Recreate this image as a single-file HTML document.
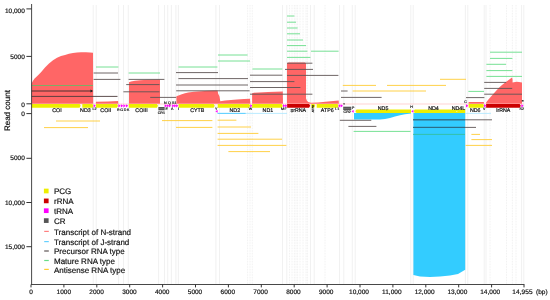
<!DOCTYPE html>
<html><head><meta charset="utf-8"><title>Read count</title>
<style>
html,body{margin:0;padding:0;background:#fff;}
svg{display:block;font-family:"Liberation Sans",sans-serif;}
text{stroke:#111;stroke-width:0.18px;text-rendering:geometricPrecision;}
</style></head><body>
<svg width="550" height="300" viewBox="0 0 550 300">
<rect width="550" height="300" fill="#fff"/>
<line x1="93.2" y1="5" x2="93.2" y2="284.5" stroke="#ebebeb" stroke-width="0.7"/>
<line x1="96.2" y1="5" x2="96.2" y2="284.5" stroke="#ebebeb" stroke-width="0.7"/>
<line x1="118.6" y1="5" x2="118.6" y2="284.5" stroke="#ebebeb" stroke-width="0.7"/>
<line x1="123.5" y1="5" x2="123.5" y2="284.5" stroke="#ebebeb" stroke-width="0.7"/>
<line x1="128.3" y1="5" x2="128.3" y2="284.5" stroke="#ebebeb" stroke-width="0.7"/>
<line x1="158.6" y1="5" x2="158.6" y2="284.5" stroke="#ebebeb" stroke-width="0.7"/>
<line x1="164.5" y1="5" x2="164.5" y2="284.5" stroke="#ebebeb" stroke-width="0.7"/>
<line x1="167.7" y1="5" x2="167.7" y2="284.5" stroke="#ebebeb" stroke-width="0.7"/>
<line x1="171.4" y1="5" x2="171.4" y2="284.5" stroke="#ebebeb" stroke-width="0.7"/>
<line x1="175.9" y1="5" x2="175.9" y2="284.5" stroke="#ebebeb" stroke-width="0.7"/>
<line x1="178.4" y1="5" x2="178.4" y2="284.5" stroke="#ebebeb" stroke-width="0.7"/>
<line x1="215.9" y1="5" x2="215.9" y2="284.5" stroke="#ebebeb" stroke-width="0.7"/>
<line x1="219.5" y1="5" x2="219.5" y2="284.5" stroke="#ebebeb" stroke-width="0.7"/>
<line x1="282.5" y1="5" x2="282.5" y2="284.5" stroke="#ebebeb" stroke-width="0.7"/>
<line x1="286.8" y1="5" x2="286.8" y2="284.5" stroke="#ebebeb" stroke-width="0.7"/>
<line x1="310.5" y1="5" x2="310.5" y2="284.5" stroke="#ebebeb" stroke-width="0.7"/>
<line x1="314.2" y1="5" x2="314.2" y2="284.5" stroke="#ebebeb" stroke-width="0.7"/>
<line x1="339.5" y1="5" x2="339.5" y2="284.5" stroke="#ebebeb" stroke-width="0.7"/>
<line x1="343.8" y1="5" x2="343.8" y2="284.5" stroke="#ebebeb" stroke-width="0.7"/>
<line x1="352.3" y1="5" x2="352.3" y2="284.5" stroke="#ebebeb" stroke-width="0.7"/>
<line x1="355.2" y1="5" x2="355.2" y2="284.5" stroke="#ebebeb" stroke-width="0.7"/>
<line x1="410.8" y1="5" x2="410.8" y2="284.5" stroke="#ebebeb" stroke-width="0.7"/>
<line x1="413.2" y1="5" x2="413.2" y2="284.5" stroke="#ebebeb" stroke-width="0.7"/>
<line x1="465.4" y1="5" x2="465.4" y2="284.5" stroke="#ebebeb" stroke-width="0.7"/>
<line x1="467.8" y1="5" x2="467.8" y2="284.5" stroke="#ebebeb" stroke-width="0.7"/>
<line x1="484.2" y1="5" x2="484.2" y2="284.5" stroke="#ebebeb" stroke-width="0.7"/>
<line x1="486" y1="5" x2="486" y2="284.5" stroke="#ebebeb" stroke-width="0.7"/>
<line x1="521.6" y1="5" x2="521.6" y2="284.5" stroke="#ebebeb" stroke-width="0.7"/>
<line x1="523.8" y1="5" x2="523.8" y2="284.5" stroke="#ebebeb" stroke-width="0.7"/>
<line x1="247.6" y1="5" x2="247.6" y2="284.5" stroke="#e4e4e4" stroke-width="0.6" stroke-dasharray="0.8,0.8"/>
<line x1="250" y1="5" x2="250" y2="284.5" stroke="#e4e4e4" stroke-width="0.6" stroke-dasharray="0.8,0.8"/>
<line x1="252.3" y1="5" x2="252.3" y2="284.5" stroke="#e4e4e4" stroke-width="0.6" stroke-dasharray="0.8,0.8"/>
<line x1="289.5" y1="5" x2="289.5" y2="284.5" stroke="#e4e4e4" stroke-width="0.6" stroke-dasharray="0.8,0.8"/>
<line x1="292" y1="5" x2="292" y2="284.5" stroke="#e4e4e4" stroke-width="0.6" stroke-dasharray="0.8,0.8"/>
<line x1="294.4" y1="5" x2="294.4" y2="284.5" stroke="#e4e4e4" stroke-width="0.6" stroke-dasharray="0.8,0.8"/>
<line x1="296" y1="5" x2="296" y2="284.5" stroke="#e4e4e4" stroke-width="0.6" stroke-dasharray="0.8,0.8"/>
<line x1="297.6" y1="5" x2="297.6" y2="284.5" stroke="#e4e4e4" stroke-width="0.6" stroke-dasharray="0.8,0.8"/>
<line x1="300" y1="5" x2="300" y2="284.5" stroke="#e4e4e4" stroke-width="0.6" stroke-dasharray="0.8,0.8"/>
<line x1="303" y1="5" x2="303" y2="284.5" stroke="#e4e4e4" stroke-width="0.6" stroke-dasharray="0.8,0.8"/>
<line x1="306" y1="5" x2="306" y2="284.5" stroke="#e4e4e4" stroke-width="0.6" stroke-dasharray="0.8,0.8"/>
<line x1="307.4" y1="5" x2="307.4" y2="284.5" stroke="#e4e4e4" stroke-width="0.6" stroke-dasharray="0.8,0.8"/>
<line x1="325" y1="5" x2="325" y2="284.5" stroke="#e4e4e4" stroke-width="0.6" stroke-dasharray="0.8,0.8"/>
<line x1="490" y1="5" x2="490" y2="284.5" stroke="#e4e4e4" stroke-width="0.6" stroke-dasharray="0.8,0.8"/>
<line x1="506.5" y1="5" x2="506.5" y2="284.5" stroke="#e4e4e4" stroke-width="0.6" stroke-dasharray="0.8,0.8"/>
<line x1="512.4" y1="5" x2="512.4" y2="284.5" stroke="#e4e4e4" stroke-width="0.6" stroke-dasharray="0.8,0.8"/>
<line x1="516" y1="5" x2="516" y2="284.5" stroke="#e4e4e4" stroke-width="0.6" stroke-dasharray="0.8,0.8"/>
<path d="M31.6,103.9 L31.6,83.4 L33.0,80.8 L34.6,78.6 L37.8,75.4 L41.0,72.2 L45.0,67.6 L49.0,63.4 L53.0,60.3 L57.0,57.8 L61.0,56.1 L65.0,54.9 L69.0,53.8 L73.0,53.0 L77.0,52.5 L81.0,52.2 L86.0,52.2 L90.0,52.4 L93.0,52.8 L93.2,103.9Z" fill="#ff6666" />
<path d="M95.9,104.3 L95.9,101.8 L108.0,101.4 L118.1,101.0 L118.3,104.3Z" fill="#ff6666" />
<path d="M129.0,103.9 L129.0,82.2 L131.0,81.4 L135.0,80.8 L140.0,80.2 L148.0,79.8 L160.0,79.6 L160.0,103.9Z" fill="#ff6666" />
<path d="M176.4,103.9 L176.4,96.3 L178.5,95.4 L181.8,94.2 L185.0,93.2 L188.2,92.5 L194.0,91.7 L201.0,91.2 L208.0,90.8 L213.6,90.5 L217.6,90.5 L218.2,93.8 L219.5,96.4 L220.3,101.2 L225.0,100.6 L231.0,100.0 L237.0,99.5 L244.0,99.1 L250.0,98.8 L250.4,103.9Z" fill="#ff6666" />
<path d="M252.1,103.9 L252.1,93.2 L254.0,92.7 L268.0,92.1 L282.8,91.5 L283.0,103.9Z" fill="#ff6666" />
<path d="M287.0,103.9 L287.0,63.5 L288.5,62.4 L305.0,62.4 L306.0,63.5 L306.0,98.5 L306.8,100.6 L308.2,102.0 L311.0,102.8 L318.0,102.4 L328.0,101.5 L338.7,100.5 L338.9,103.9Z" fill="#ff6666" />
<path d="M468.6,104.3 L468.6,102.1 L483.9,101.9 L483.9,104.3Z" fill="#ff6666" />
<path d="M486.1,103.9 L486.1,102.6 L488.0,100.0 L493.0,94.2 L498.7,87.9 L502.0,85.0 L505.2,82.5 L509.0,79.8 L512.0,77.4 L512.5,79.0 L512.6,82.5 L516.5,81.8 L519.0,82.1 L522.0,82.4 L522.0,103.9Z" fill="#ff6666" />
<path d="M354.0,113.0 L354.0,119.4 L380.0,119.4 L385.0,119.0 L390.0,118.0 L395.0,116.6 L400.0,115.2 L405.0,114.2 L411.0,113.4 L411.0,113.0Z" fill="#33ccff" />
<path d="M413.4,113.0 L413.4,275.0 L420.0,276.4 L430.0,277.0 L440.0,276.6 L450.0,275.6 L458.0,274.0 L465.2,269.8 L465.2,113.0Z" fill="#33ccff" />
<line x1="31.6" y1="104.0" x2="524" y2="104.0" stroke="#ffc8c8" stroke-width="0.8"/>
<line x1="217.6" y1="113.4" x2="287" y2="113.4" stroke="#aae6ff" stroke-width="0.8"/>
<line x1="217.6" y1="113.4" x2="245.6" y2="113.4" stroke="#5ccfff" stroke-width="1.0"/>
<line x1="465" y1="113.4" x2="491" y2="113.4" stroke="#aae6ff" stroke-width="0.8"/>
<line x1="31.6" y1="85.5" x2="93" y2="85.5" stroke="#6fb765" stroke-width="0.9"/>
<line x1="31.6" y1="91" x2="92" y2="91" stroke="#3a2a2a" stroke-width="0.9"/>
<path d="M90.5,89.6 L93.2,91 L90.5,92.4Z" fill="#222"/>
<line x1="31.6" y1="96.4" x2="117.5" y2="96.4" stroke="#4a3a3a" stroke-width="0.9"/>
<line x1="96" y1="67" x2="118.4" y2="67" stroke="#66dd88" stroke-width="0.9"/>
<line x1="93.6" y1="73" x2="118" y2="73" stroke="#5e5555" stroke-width="0.9"/>
<line x1="93.6" y1="79.4" x2="120.4" y2="79.4" stroke="#5e5555" stroke-width="0.9"/>
<line x1="128.6" y1="73" x2="160" y2="73" stroke="#66dd88" stroke-width="0.9"/>
<line x1="128.6" y1="79.4" x2="164.4" y2="79.4" stroke="#5e5555" stroke-width="0.9"/>
<line x1="126.2" y1="84.6" x2="159.5" y2="84.6" stroke="#5e5555" stroke-width="0.9"/>
<line x1="123.4" y1="91.8" x2="159.5" y2="91.8" stroke="#5e5555" stroke-width="0.9"/>
<line x1="150.2" y1="97.4" x2="176.2" y2="97.4" stroke="#5e5555" stroke-width="0.9"/>
<line x1="178.4" y1="67" x2="217.4" y2="67" stroke="#66dd88" stroke-width="0.9"/>
<line x1="176" y1="72.6" x2="218" y2="72.6" stroke="#5e5555" stroke-width="0.9"/>
<line x1="178.4" y1="78.6" x2="248" y2="78.6" stroke="#5e5555" stroke-width="0.9"/>
<line x1="176" y1="85" x2="248" y2="85" stroke="#5e5555" stroke-width="0.9"/>
<line x1="176.2" y1="90.8" x2="249.6" y2="90.8" stroke="#5e5555" stroke-width="0.9"/>
<line x1="218" y1="55" x2="247.6" y2="55" stroke="#66dd88" stroke-width="0.9"/>
<line x1="218" y1="61" x2="250" y2="61" stroke="#66dd88" stroke-width="0.9"/>
<line x1="252.4" y1="69" x2="282.4" y2="69" stroke="#66dd88" stroke-width="0.9"/>
<line x1="250" y1="75.2" x2="282.4" y2="75.2" stroke="#5e5555" stroke-width="0.9"/>
<line x1="250" y1="81.6" x2="294.4" y2="81.6" stroke="#5e5555" stroke-width="0.9"/>
<line x1="250" y1="87.5" x2="300.4" y2="87.5" stroke="#5e5555" stroke-width="0.9"/>
<line x1="250" y1="94.2" x2="312.4" y2="94.2" stroke="#5e5555" stroke-width="0.9"/>
<line x1="287" y1="16" x2="294.4" y2="16" stroke="#66dd88" stroke-width="0.9"/>
<line x1="287" y1="22.2" x2="296" y2="22.2" stroke="#66dd88" stroke-width="0.9"/>
<line x1="287" y1="28" x2="297.6" y2="28" stroke="#66dd88" stroke-width="0.9"/>
<line x1="287" y1="33.8" x2="300" y2="33.8" stroke="#66dd88" stroke-width="0.9"/>
<line x1="287" y1="40" x2="303" y2="40" stroke="#66dd88" stroke-width="0.9"/>
<line x1="287" y1="45.6" x2="306" y2="45.6" stroke="#66dd88" stroke-width="0.9"/>
<line x1="287" y1="51.2" x2="307.4" y2="51.2" stroke="#66dd88" stroke-width="0.9"/>
<line x1="287" y1="57.4" x2="310.4" y2="57.4" stroke="#66dd88" stroke-width="0.9"/>
<line x1="311" y1="51.2" x2="338.6" y2="51.2" stroke="#66dd88" stroke-width="0.9"/>
<line x1="287" y1="63.2" x2="312.4" y2="63.2" stroke="#5e5555" stroke-width="0.9"/>
<line x1="285" y1="69.4" x2="313" y2="69.4" stroke="#5e5555" stroke-width="0.9"/>
<line x1="287" y1="75.4" x2="338.4" y2="75.4" stroke="#5e5555" stroke-width="0.9"/>
<line x1="342.8" y1="85.4" x2="376" y2="85.4" stroke="#ffcc33" stroke-width="0.9"/>
<line x1="387" y1="85.4" x2="446" y2="85.4" stroke="#ffcc33" stroke-width="0.9"/>
<line x1="440" y1="79.3" x2="466" y2="79.3" stroke="#ffcc33" stroke-width="0.9"/>
<line x1="341" y1="91" x2="347.6" y2="91" stroke="#5e5555" stroke-width="0.9"/>
<line x1="352.6" y1="91" x2="426" y2="91" stroke="#ffcc33" stroke-width="0.9"/>
<line x1="341" y1="97.4" x2="381.6" y2="97.4" stroke="#5e5555" stroke-width="0.9"/>
<line x1="468.4" y1="91.4" x2="484" y2="91.4" stroke="#66dd88" stroke-width="0.9"/>
<line x1="466" y1="97.6" x2="484.4" y2="97.6" stroke="#5e5555" stroke-width="0.9"/>
<line x1="490" y1="52.2" x2="522" y2="52.2" stroke="#66dd88" stroke-width="0.9"/>
<line x1="490" y1="58.4" x2="512.4" y2="58.4" stroke="#66dd88" stroke-width="0.9"/>
<line x1="486.4" y1="64.3" x2="506" y2="64.3" stroke="#66dd88" stroke-width="0.9"/>
<line x1="486.4" y1="70.6" x2="512.4" y2="70.6" stroke="#66dd88" stroke-width="0.9"/>
<line x1="486.4" y1="76.4" x2="522" y2="76.4" stroke="#66dd88" stroke-width="0.9"/>
<line x1="484.2" y1="82.4" x2="506.2" y2="82.4" stroke="#5e5555" stroke-width="0.9"/>
<line x1="484.2" y1="88.4" x2="512.2" y2="88.4" stroke="#5e5555" stroke-width="0.9"/>
<line x1="484.2" y1="94.2" x2="522" y2="94.2" stroke="#5e5555" stroke-width="0.9"/>
<line x1="521.8" y1="100.8" x2="523.6" y2="100.8" stroke="#333" stroke-width="1.5"/>
<line x1="56" y1="121" x2="100" y2="121" stroke="#ffcc33" stroke-width="0.9"/>
<line x1="44" y1="127.6" x2="88" y2="127.6" stroke="#ffcc33" stroke-width="0.9"/>
<line x1="162" y1="120.6" x2="212.4" y2="120.6" stroke="#ffcc33" stroke-width="0.9"/>
<line x1="176" y1="127.4" x2="212.4" y2="127.4" stroke="#ffcc33" stroke-width="0.9"/>
<line x1="217.6" y1="120.2" x2="236.4" y2="120.2" stroke="#ffcc33" stroke-width="0.9"/>
<line x1="217.6" y1="127" x2="251" y2="127" stroke="#ffcc33" stroke-width="0.9"/>
<line x1="217.6" y1="133.4" x2="258.4" y2="133.4" stroke="#ffcc33" stroke-width="0.9"/>
<line x1="217.6" y1="139.2" x2="282" y2="139.2" stroke="#ffcc33" stroke-width="0.9"/>
<line x1="217.6" y1="145.4" x2="286.4" y2="145.4" stroke="#ffcc33" stroke-width="0.9"/>
<line x1="228.4" y1="151.6" x2="270" y2="151.6" stroke="#ffcc33" stroke-width="0.9"/>
<line x1="339.8" y1="120.3" x2="371.3" y2="120.3" stroke="#5e5555" stroke-width="0.9"/>
<line x1="348.4" y1="126.4" x2="376.4" y2="126.4" stroke="#5e5555" stroke-width="0.9"/>
<line x1="353.6" y1="131.4" x2="410.6" y2="131.4" stroke="#66dd88" stroke-width="0.9"/>
<line x1="413" y1="119.8" x2="492" y2="119.8" stroke="#5e5555" stroke-width="0.9"/>
<line x1="413" y1="119.8" x2="465" y2="119.8" stroke="#1f6f8f" stroke-width="0.9"/>
<line x1="413" y1="127.4" x2="476" y2="127.4" stroke="#5e5555" stroke-width="0.9"/>
<line x1="413" y1="127.4" x2="465" y2="127.4" stroke="#1f6f8f" stroke-width="0.9"/>
<line x1="413" y1="134.4" x2="465" y2="134.4" stroke="#33c0a0" stroke-width="0.9"/>
<line x1="471.4" y1="134.4" x2="480" y2="134.4" stroke="#ffcc33" stroke-width="0.9"/>
<line x1="471.4" y1="139.6" x2="492" y2="139.6" stroke="#ffcc33" stroke-width="0.9"/>
<line x1="465.6" y1="145.4" x2="492" y2="145.4" stroke="#ffcc33" stroke-width="0.9"/>
<path d="M31.6,103.9 L79.6,103.9 L80.7,105.8 L79.6,107.7 L31.6,107.7Z" fill="#eeee00" />
<path d="M82.3,103.9 L92.4,103.9 L93.5,105.8 L92.4,107.7 L82.3,107.7Z" fill="#eeee00" />
<path d="M96.0,103.9 L116.9,103.9 L118.0,105.8 L116.9,107.7 L96.0,107.7Z" fill="#eeee00" />
<path d="M128.8,103.9 L156.9,103.9 L158.0,105.8 L156.9,107.7 L128.8,107.7Z" fill="#eeee00" />
<path d="M178.6,103.9 L213.7,103.9 L214.8,105.8 L213.7,107.7 L178.6,107.7Z" fill="#eeee00" />
<path d="M217.7,103.9 L249.1,103.9 L250.2,105.8 L249.1,107.7 L217.7,107.7Z" fill="#eeee00" />
<path d="M252.1,103.9 L281.7,103.9 L282.8,105.8 L281.7,107.7 L252.1,107.7Z" fill="#eeee00" />
<path d="M311.4,103.9 L314.2,103.9 L315.3,105.8 L314.2,107.7 L311.4,107.7Z" fill="#eeee00" />
<path d="M316.7,103.9 L337.5,103.9 L338.6,105.8 L337.5,107.7 L316.7,107.7Z" fill="#eeee00" />
<path d="M468.7,103.9 L482.9,103.9 L484.0,105.8 L482.9,107.7 L468.7,107.7Z" fill="#eeee00" />
<path d="M287.1,103.9 L309.1,103.9 L310.2,105.8 L309.1,107.7 L287.1,107.7Z" fill="#cc0000" />
<path d="M486.1,103.9 L519.7,103.9 L520.8,105.8 L519.7,107.7 L486.1,107.7Z" fill="#cc0000" />
<path d="M411.0,109.6 L356.5,109.6 L355.4,111.3 L356.5,113.0 L411.0,113.0Z" fill="#eeee00" />
<path d="M465.2,109.6 L414.7,109.6 L413.6,111.3 L414.7,113.0 L465.2,113.0Z" fill="#eeee00" />
<path d="M456.2,111.5 L457.2,110.8 L457.2,112.2Z" fill="#fff" />
<path d="M93.6,104.2 L95.9,105.8 L93.6,107.4Z" fill="#ff00ff" />
<path d="M118.4,104.2 L120.7,105.8 L118.4,107.4Z" fill="#ff00ff" />
<path d="M120.9,104.2 L123.2,105.8 L120.9,107.4Z" fill="#ff00ff" />
<path d="M123.4,104.2 L125.7,105.8 L123.4,107.4Z" fill="#ff00ff" />
<path d="M125.9,104.2 L128.2,105.8 L125.9,107.4Z" fill="#ff00ff" />
<path d="M164.7,104.2 L167.0,105.8 L164.7,107.4Z" fill="#ff00ff" />
<path d="M166.8,104.2 L169.1,105.8 L166.8,107.4Z" fill="#ff00ff" />
<path d="M168.9,104.2 L171.2,105.8 L168.9,107.4Z" fill="#ff00ff" />
<path d="M172.1,104.2 L174.4,105.8 L172.1,107.4Z" fill="#ff00ff" />
<path d="M174.1,104.2 L176.4,105.8 L174.1,107.4Z" fill="#ff00ff" />
<path d="M176.1,104.2 L178.4,105.8 L176.1,107.4Z" fill="#ff00ff" />
<path d="M250.2,104.2 L252.5,105.8 L250.2,107.4Z" fill="#ff00ff" />
<path d="M283.0,104.2 L285.3,105.8 L283.0,107.4Z" fill="#ff00ff" />
<path d="M285.1,104.2 L287.4,105.8 L285.1,107.4Z" fill="#ff00ff" />
<path d="M338.7,104.2 L341.0,105.8 L338.7,107.4Z" fill="#ff00ff" />
<path d="M340.7,104.2 L343.0,105.8 L340.7,107.4Z" fill="#ff00ff" />
<path d="M466.0,104.2 L468.3,105.8 L466.0,107.4Z" fill="#ff00ff" />
<path d="M484.1,104.2 L486.4,105.8 L484.1,107.4Z" fill="#ff00ff" />
<path d="M521.4,104.2 L523.7,105.8 L521.4,107.4Z" fill="#ff00ff" />
<path d="M217.6,109.9 L215.4,111.3 L217.6,112.7Z" fill="#ff00ff" />
<path d="M353.7,109.9 L351.5,111.3 L353.7,112.7Z" fill="#ff00ff" />
<path d="M413.4,109.9 L411.2,111.3 L413.4,112.7Z" fill="#ff00ff" />
<rect x="158.4" y="107.0" width="6.20" height="3.30" fill="#555555"/>
<rect x="343.2" y="106.7" width="8.10" height="3.40" fill="#555555"/>
<line x1="158.4" y1="108.6" x2="164.6" y2="108.6" stroke="#8a8a8a" stroke-width="0.5"/>
<line x1="343.4" y1="108.4" x2="351.2" y2="108.4" stroke="#8a8a8a" stroke-width="0.5"/>
<text x="57" y="112" font-size="5.3" text-anchor="middle" fill="#111" >COI</text>
<text x="85.4" y="112" font-size="5.3" text-anchor="middle" fill="#111" >ND3</text>
<text x="105.8" y="112" font-size="5.3" text-anchor="middle" fill="#111" >COII</text>
<text x="141.5" y="112" font-size="5.3" text-anchor="middle" fill="#111" >COIII</text>
<text x="197.3" y="112" font-size="5.3" text-anchor="middle" fill="#111" >CYTB</text>
<text x="234.8" y="112" font-size="5.3" text-anchor="middle" fill="#111" >ND2</text>
<text x="267.9" y="112" font-size="5.3" text-anchor="middle" fill="#111" >ND1</text>
<text x="298.3" y="112" font-size="5.3" text-anchor="middle" fill="#111" >srRNA</text>
<text x="327.2" y="112" font-size="5.3" text-anchor="middle" fill="#111" >ATP6</text>
<text x="475.2" y="112" font-size="5.3" text-anchor="middle" fill="#111" >ND6</text>
<text x="503.3" y="112" font-size="5.3" text-anchor="middle" fill="#111" >lrRNA</text>
<text x="383.1" y="109.8" font-size="5.3" text-anchor="middle" fill="#111" >ND5</text>
<text x="433.5" y="109.8" font-size="5.3" text-anchor="middle" fill="#111" >ND4</text>
<text x="458.5" y="109.8" font-size="5.3" text-anchor="middle" fill="#111" >ND4L</text>
<text x="94.5" y="110.3" font-size="3.6" text-anchor="middle" fill="#111" >L2</text>
<text x="118.4" y="110.7" font-size="3.6" text-anchor="middle" fill="#111" >R</text>
<text x="121.7" y="110.7" font-size="3.6" text-anchor="middle" fill="#111" >G</text>
<text x="125" y="110.7" font-size="3.6" text-anchor="middle" fill="#111" >D</text>
<text x="128.2" y="110.7" font-size="3.6" text-anchor="middle" fill="#111" >K</text>
<text x="161.3" y="114.1" font-size="3.6" text-anchor="middle" fill="#111" >CR1</text>
<text x="165.4" y="103.5" font-size="3.6" text-anchor="middle" fill="#111" >N</text>
<text x="169.4" y="103.5" font-size="3.6" text-anchor="middle" fill="#111" >Q</text>
<text x="174.3" y="103.5" font-size="3.6" text-anchor="middle" fill="#111" >S1</text>
<text x="166.8" y="110.4" font-size="3.6" text-anchor="middle" fill="#111" >E</text>
<text x="172.3" y="110.4" font-size="3.6" text-anchor="middle" fill="#111" >A</text>
<text x="178.6" y="110.4" font-size="3.6" text-anchor="middle" fill="#111" >I</text>
<text x="216.2" y="109.6" font-size="3.6" text-anchor="middle" fill="#111" >Y</text>
<text x="250.4" y="110.3" font-size="3.6" text-anchor="middle" fill="#111" >W</text>
<text x="282.6" y="110.3" font-size="3.6" text-anchor="middle" fill="#111" >M</text>
<text x="285.6" y="110.3" font-size="3.6" text-anchor="middle" fill="#111" >F</text>
<text x="347.2" y="113.0" font-size="3.6" text-anchor="middle" fill="#111" >CR2</text>
<text x="337.3" y="110.3" font-size="3.6" text-anchor="middle" fill="#111" >L1</text>
<text x="344" y="104.6" font-size="2.6" text-anchor="middle" fill="#111" >T</text>
<text x="353.1" y="109.0" font-size="3.6" text-anchor="middle" fill="#111" >P</text>
<text x="411.5" y="108.4" font-size="3.6" text-anchor="middle" fill="#111" >H</text>
<text x="465.6" y="103.2" font-size="3.6" text-anchor="middle" fill="#111" >C</text>
<text x="484.3" y="110.3" font-size="3.6" text-anchor="middle" fill="#111" >V</text>
<text x="521.8" y="110.3" font-size="3.6" text-anchor="middle" fill="#111" >S2</text>
<text transform="translate(314.2,108.6) rotate(-90)" font-size="3.0" text-anchor="middle" fill="#111">ATP8</text>
<line x1="31.6" y1="4" x2="31.6" y2="284.9" stroke="#333333" stroke-width="0.9"/>
<line x1="31.2" y1="284.5" x2="524.4" y2="284.5" stroke="#333333" stroke-width="0.9"/>
<line x1="26.4" y1="8.9" x2="31.6" y2="8.9" stroke="#333333" stroke-width="1.0"/>
<text x="24.8" y="12.5" font-size="6.5" text-anchor="end" fill="#111" >10,000</text>
<line x1="26.4" y1="56.4" x2="31.6" y2="56.4" stroke="#333333" stroke-width="1.0"/>
<text x="24.8" y="58.699999999999996" font-size="6.5" text-anchor="end" fill="#111" >5000</text>
<line x1="26.4" y1="103.8" x2="31.6" y2="103.8" stroke="#333333" stroke-width="1.0"/>
<text x="24.8" y="107.0" font-size="6.5" text-anchor="end" fill="#111" >0</text>
<line x1="26.4" y1="113.6" x2="31.6" y2="113.6" stroke="#333333" stroke-width="1.0"/>
<text x="24.8" y="115.99999999999999" font-size="6.5" text-anchor="end" fill="#111" >0</text>
<line x1="26.4" y1="158.3" x2="31.6" y2="158.3" stroke="#333333" stroke-width="1.0"/>
<text x="24.8" y="160.20000000000002" font-size="6.5" text-anchor="end" fill="#111" >5000</text>
<line x1="26.4" y1="202.5" x2="31.6" y2="202.5" stroke="#333333" stroke-width="1.0"/>
<text x="24.8" y="204.8" font-size="6.5" text-anchor="end" fill="#111" >10,000</text>
<line x1="26.4" y1="246.7" x2="31.6" y2="246.7" stroke="#333333" stroke-width="1.0"/>
<text x="24.8" y="249.0" font-size="6.5" text-anchor="end" fill="#111" >15,000</text>
<line x1="31.0" y1="284.5" x2="31.0" y2="287.4" stroke="#333333" stroke-width="1.0"/>
<text x="31.0" y="294.4" font-size="6.5" text-anchor="middle" fill="#111" >0</text>
<line x1="63.9" y1="284.5" x2="63.9" y2="287.4" stroke="#333333" stroke-width="1.0"/>
<text x="63.8" y="294.4" font-size="6.5" text-anchor="middle" fill="#111" >1000</text>
<line x1="96.8" y1="284.5" x2="96.8" y2="287.4" stroke="#333333" stroke-width="1.0"/>
<text x="96.6" y="294.4" font-size="6.5" text-anchor="middle" fill="#111" >2000</text>
<line x1="129.7" y1="284.5" x2="129.7" y2="287.4" stroke="#333333" stroke-width="1.0"/>
<text x="129.4" y="294.4" font-size="6.5" text-anchor="middle" fill="#111" >3000</text>
<line x1="162.6" y1="284.5" x2="162.6" y2="287.4" stroke="#333333" stroke-width="1.0"/>
<text x="162.2" y="294.4" font-size="6.5" text-anchor="middle" fill="#111" >4000</text>
<line x1="195.5" y1="284.5" x2="195.5" y2="287.4" stroke="#333333" stroke-width="1.0"/>
<text x="195.0" y="294.4" font-size="6.5" text-anchor="middle" fill="#111" >5000</text>
<line x1="228.4" y1="284.5" x2="228.4" y2="287.4" stroke="#333333" stroke-width="1.0"/>
<text x="227.8" y="294.4" font-size="6.5" text-anchor="middle" fill="#111" >6000</text>
<line x1="261.3" y1="284.5" x2="261.3" y2="287.4" stroke="#333333" stroke-width="1.0"/>
<text x="260.6" y="294.4" font-size="6.5" text-anchor="middle" fill="#111" >7000</text>
<line x1="294.2" y1="284.5" x2="294.2" y2="287.4" stroke="#333333" stroke-width="1.0"/>
<text x="293.4" y="294.4" font-size="6.5" text-anchor="middle" fill="#111" >8000</text>
<line x1="327.1" y1="284.5" x2="327.1" y2="287.4" stroke="#333333" stroke-width="1.0"/>
<text x="326.2" y="294.4" font-size="6.5" text-anchor="middle" fill="#111" >9000</text>
<line x1="360.0" y1="284.5" x2="360.0" y2="287.4" stroke="#333333" stroke-width="1.0"/>
<text x="359.0" y="294.4" font-size="6.5" text-anchor="middle" fill="#111" >10,000</text>
<line x1="392.9" y1="284.5" x2="392.9" y2="287.4" stroke="#333333" stroke-width="1.0"/>
<text x="391.8" y="294.4" font-size="6.5" text-anchor="middle" fill="#111" >11,000</text>
<line x1="425.8" y1="284.5" x2="425.8" y2="287.4" stroke="#333333" stroke-width="1.0"/>
<text x="424.6" y="294.4" font-size="6.5" text-anchor="middle" fill="#111" >12,000</text>
<line x1="458.7" y1="284.5" x2="458.7" y2="287.4" stroke="#333333" stroke-width="1.0"/>
<text x="457.4" y="294.4" font-size="6.5" text-anchor="middle" fill="#111" >13,000</text>
<line x1="491.6" y1="284.5" x2="491.6" y2="287.4" stroke="#333333" stroke-width="1.0"/>
<text x="490.2" y="294.4" font-size="6.5" text-anchor="middle" fill="#111" >14,000</text>
<line x1="524.0" y1="284.5" x2="524.0" y2="287.4" stroke="#333333" stroke-width="1.0"/>
<text x="512.2" y="294.4" font-size="6.5" text-anchor="start" fill="#111" textLength="20.4">14,955</text>
<text x="536" y="294.4" font-size="6.5" text-anchor="start" fill="#111" >(bp)</text>
<text transform="translate(10.4,110.6) rotate(-90)" font-size="8" text-anchor="middle" fill="#111">Read count</text>
<rect x="43.9" y="188.65" width="4.70" height="4.70" fill="#eeee00"/>
<text x="54" y="193.9" font-size="8" text-anchor="start" fill="#111" >PCG</text>
<rect x="43.9" y="198.55" width="4.70" height="4.70" fill="#cc0000"/>
<text x="54" y="203.8" font-size="8" text-anchor="start" fill="#111" >rRNA</text>
<rect x="43.9" y="208.35" width="4.70" height="4.70" fill="#ff00ff"/>
<text x="54" y="213.6" font-size="8" text-anchor="start" fill="#111" >tRNA</text>
<rect x="43.9" y="218.25" width="4.70" height="4.70" fill="#555555"/>
<text x="54" y="223.5" font-size="8" text-anchor="start" fill="#111" >CR</text>
<line x1="44.2" y1="231.4" x2="48.8" y2="231.4" stroke="#ff8080" stroke-width="1.2"/>
<text x="54" y="234.5" font-size="8" text-anchor="start" fill="#111" >Transcript of N-strand</text>
<line x1="44.2" y1="241.60000000000002" x2="48.8" y2="241.60000000000002" stroke="#66d0ff" stroke-width="1.2"/>
<text x="54" y="244.70000000000002" font-size="8" text-anchor="start" fill="#111" >Transcript of J-strand</text>
<line x1="44.2" y1="251.0" x2="48.8" y2="251.0" stroke="#5e5555" stroke-width="1.2"/>
<text x="54" y="254.1" font-size="8" text-anchor="start" fill="#111" >Precursor RNA type</text>
<line x1="44.2" y1="260.5" x2="48.8" y2="260.5" stroke="#66dd88" stroke-width="1.2"/>
<text x="54" y="263.59999999999997" font-size="8" text-anchor="start" fill="#111" >Mature RNA type</text>
<line x1="44.2" y1="269.40000000000003" x2="48.8" y2="269.40000000000003" stroke="#ffcc33" stroke-width="1.2"/>
<text x="54" y="272.5" font-size="8" text-anchor="start" fill="#111" >Antisense RNA type</text>
</svg>
</body></html>
